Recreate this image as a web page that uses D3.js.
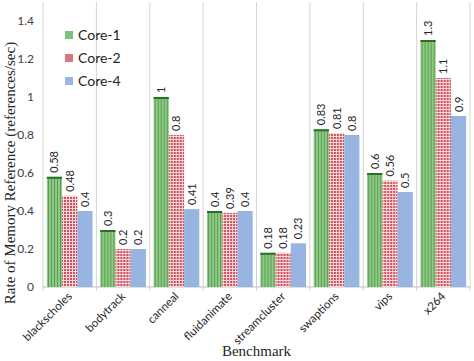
<!DOCTYPE html>
<html>
<head>
<meta charset="utf-8">
<script src="https://cdn.jsdelivr.net/npm/d3@7"></script>
<style>
  body { margin: 0; background: #fff; }
  svg { display: block; }
</style>
</head>
<body>
<div id="chart"></div>
<script>
// benchmark names and memory reference rates per core count
const benchmarks = ['blackscholes', 'bodytrack', 'canneal', 'fluidanimate', 'streamcluster', 'swaptions', 'vips', 'x264'];
const seriesNames = ['Core-1', 'Core-2', 'Core-4'];
const core1 = [0.58, 0.3, 1, 0.4, 0.18, 0.83, 0.6, 1.3];
const core2 = [0.48, 0.2, 0.8, 0.39, 0.18, 0.81, 0.56, 1.1];
const core4 = [0.4, 0.2, 0.41, 0.4, 0.23, 0.8, 0.5, 0.9];
const yTicks = [0, 0.2, 0.4, 0.6, 0.8, 1, 1.2, 1.4];

const width = 474, height = 361;
const margin = {top: 2, right: 4, bottom: 74, left: 43};
const innerW = width - margin.left - margin.right;
const innerH = height - margin.top - margin.bottom;

const sansFont = 'Lato, "Open Sans", sans-serif';
const serifFont = '"Liberation Serif", "DejaVu Serif", serif';

const svg = d3.select('#chart').append('svg')
  .attr('width', width)
  .attr('height', height);

// patterns for the bar textures
const defs = svg.append('defs');
const greenPat = defs.append('pattern')
  .attr('id', 'pat-green')
  .attr('patternUnits', 'userSpaceOnUse')
  .attr('width', 3).attr('height', 3);
greenPat.append('rect').attr('width', 3).attr('height', 3).attr('fill', '#8fcb86');
greenPat.append('rect').attr('x', 2).attr('width', 1).attr('height', 3).attr('fill', '#5a9a52');

const redPat = defs.append('pattern')
  .attr('id', 'pat-red')
  .attr('patternUnits', 'userSpaceOnUse')
  .attr('width', 3).attr('height', 3);
redPat.append('rect').attr('width', 3).attr('height', 3).attr('fill', '#f4dadc');
redPat.append('rect').attr('width', 2).attr('height', 2).attr('fill', '#cf4f5c');

const fills = ['url(#pat-green)', 'url(#pat-red)', '#98b5e2'];
const legendFills = ['#7dc47a', '#d9757c', '#9ab6e3'];

const g = svg.append('g')
  .attr('transform', `translate(${margin.left},${margin.top})`);

const x0 = d3.scaleBand()
  .domain(benchmarks)
  .range([0, innerW])
  .paddingInner(0)
  .paddingOuter(0);

const x1 = d3.scaleBand()
  .domain(seriesNames)
  .range([0, x0.bandwidth()])
  .paddingOuter(0.25)
  .paddingInner(0);

const y = d3.scaleLinear()
  .domain([0, 1.5])
  .range([innerH, 0]);

// vertical separators between benchmarks
g.append('g')
  .selectAll('line')
  .data(d3.range(benchmarks.length + 1))
  .join('line')
  .attr('x1', i => i * x0.step())
  .attr('x2', i => i * x0.step())
  .attr('y1', 0)
  .attr('y2', innerH + 4)
  .attr('stroke', '#d4d4d4')
  .attr('stroke-width', 1);

// x axis baseline
g.append('line')
  .attr('x1', 0).attr('x2', innerW)
  .attr('y1', innerH).attr('y2', innerH)
  .attr('stroke', '#bfbfbf');

// y tick labels
g.append('g')
  .selectAll('text')
  .data(yTicks)
  .join('text')
  .attr('x', -9)
  .attr('y', d => y(d))
  .attr('dy', '0.35em')
  .attr('text-anchor', 'end')
  .style('font-family', sansFont)
  .style('font-size', '12px')
  .style('fill', '#404040')
  .text(d => d);

const rows = benchmarks.map((b, i) => ({
  name: b,
  values: [core1[i], core2[i], core4[i]].map((v, k) => ({series: seriesNames[k], k: k, value: v}))
}));

const groups = g.selectAll('g.bench')
  .data(rows)
  .join('g')
  .attr('class', 'bench')
  .attr('transform', d => `translate(${x0(d.name)},0)`);

groups.selectAll('rect')
  .data(d => d.values)
  .join('rect')
  .attr('x', d => x1(d.series))
  .attr('y', d => y(d.value))
  .attr('width', x1.bandwidth())
  .attr('height', d => innerH - y(d.value))
  .attr('fill', d => fills[d.k]);

// dark top edge on the Core-1 bars
groups.selectAll('line.top')
  .data(d => d.values.filter(v => v.k === 0))
  .join('line')
  .attr('class', 'top')
  .attr('x1', d => x1(d.series))
  .attr('x2', d => x1(d.series) + x1.bandwidth())
  .attr('y1', d => y(d.value) + 1)
  .attr('y2', d => y(d.value) + 1)
  .attr('stroke', '#2f6e2a')
  .attr('stroke-width', 2);

// value labels, rotated
groups.selectAll('text.val')
  .data(d => d.values)
  .join('text')
  .attr('class', 'val')
  .attr('transform', d => `translate(${x1(d.series) + x1.bandwidth() / 2 + 4},${y(d.value) - 4}) rotate(-90)`)
  .attr('text-anchor', 'start')
  .style('font-family', sansFont)
  .style('font-size', '11px')
  .style('fill', '#262626')
  .text(d => d.value);

// x category labels
g.append('g')
  .selectAll('text')
  .data(benchmarks)
  .join('text')
  .attr('transform', d => `translate(${x0(d) + x0.bandwidth() / 2 + 3},${innerH + 10}) rotate(-45)`)
  .attr('text-anchor', 'end')
  .style('font-family', sansFont)
  .style('font-size', '11.5px')
  .style('fill', '#262626')
  .text(d => d);

// axis titles
svg.append('text')
  .attr('x', margin.left + innerW / 2)
  .attr('y', 356)
  .attr('text-anchor', 'middle')
  .style('font-family', serifFont)
  .style('font-size', '15px')
  .style('fill', '#262626')
  .text('Benchmark');

svg.append('text')
  .attr('transform', `translate(15,${173}) rotate(-90)`)
  .attr('text-anchor', 'middle')
  .style('font-family', serifFont)
  .style('font-size', '15px')
  .style('fill', '#262626')
  .text('Rate of Memory Reference (references/sec)');

// legend
const legend = svg.append('g')
  .attr('transform', 'translate(65,35)');

const items = legend.selectAll('g')
  .data(seriesNames)
  .join('g')
  .attr('transform', (d, i) => `translate(0,${i * 23})`);

items.append('rect')
  .attr('x', 0).attr('y', -4)
  .attr('width', 8).attr('height', 8)
  .attr('fill', (d, i) => legendFills[i]);

items.append('text')
  .attr('x', 13)
  .attr('dy', '0.35em')
  .style('font-family', sansFont)
  .style('font-size', '14px')
  .style('fill', '#262626')
  .text(d => d);
</script>
</body>
</html>
